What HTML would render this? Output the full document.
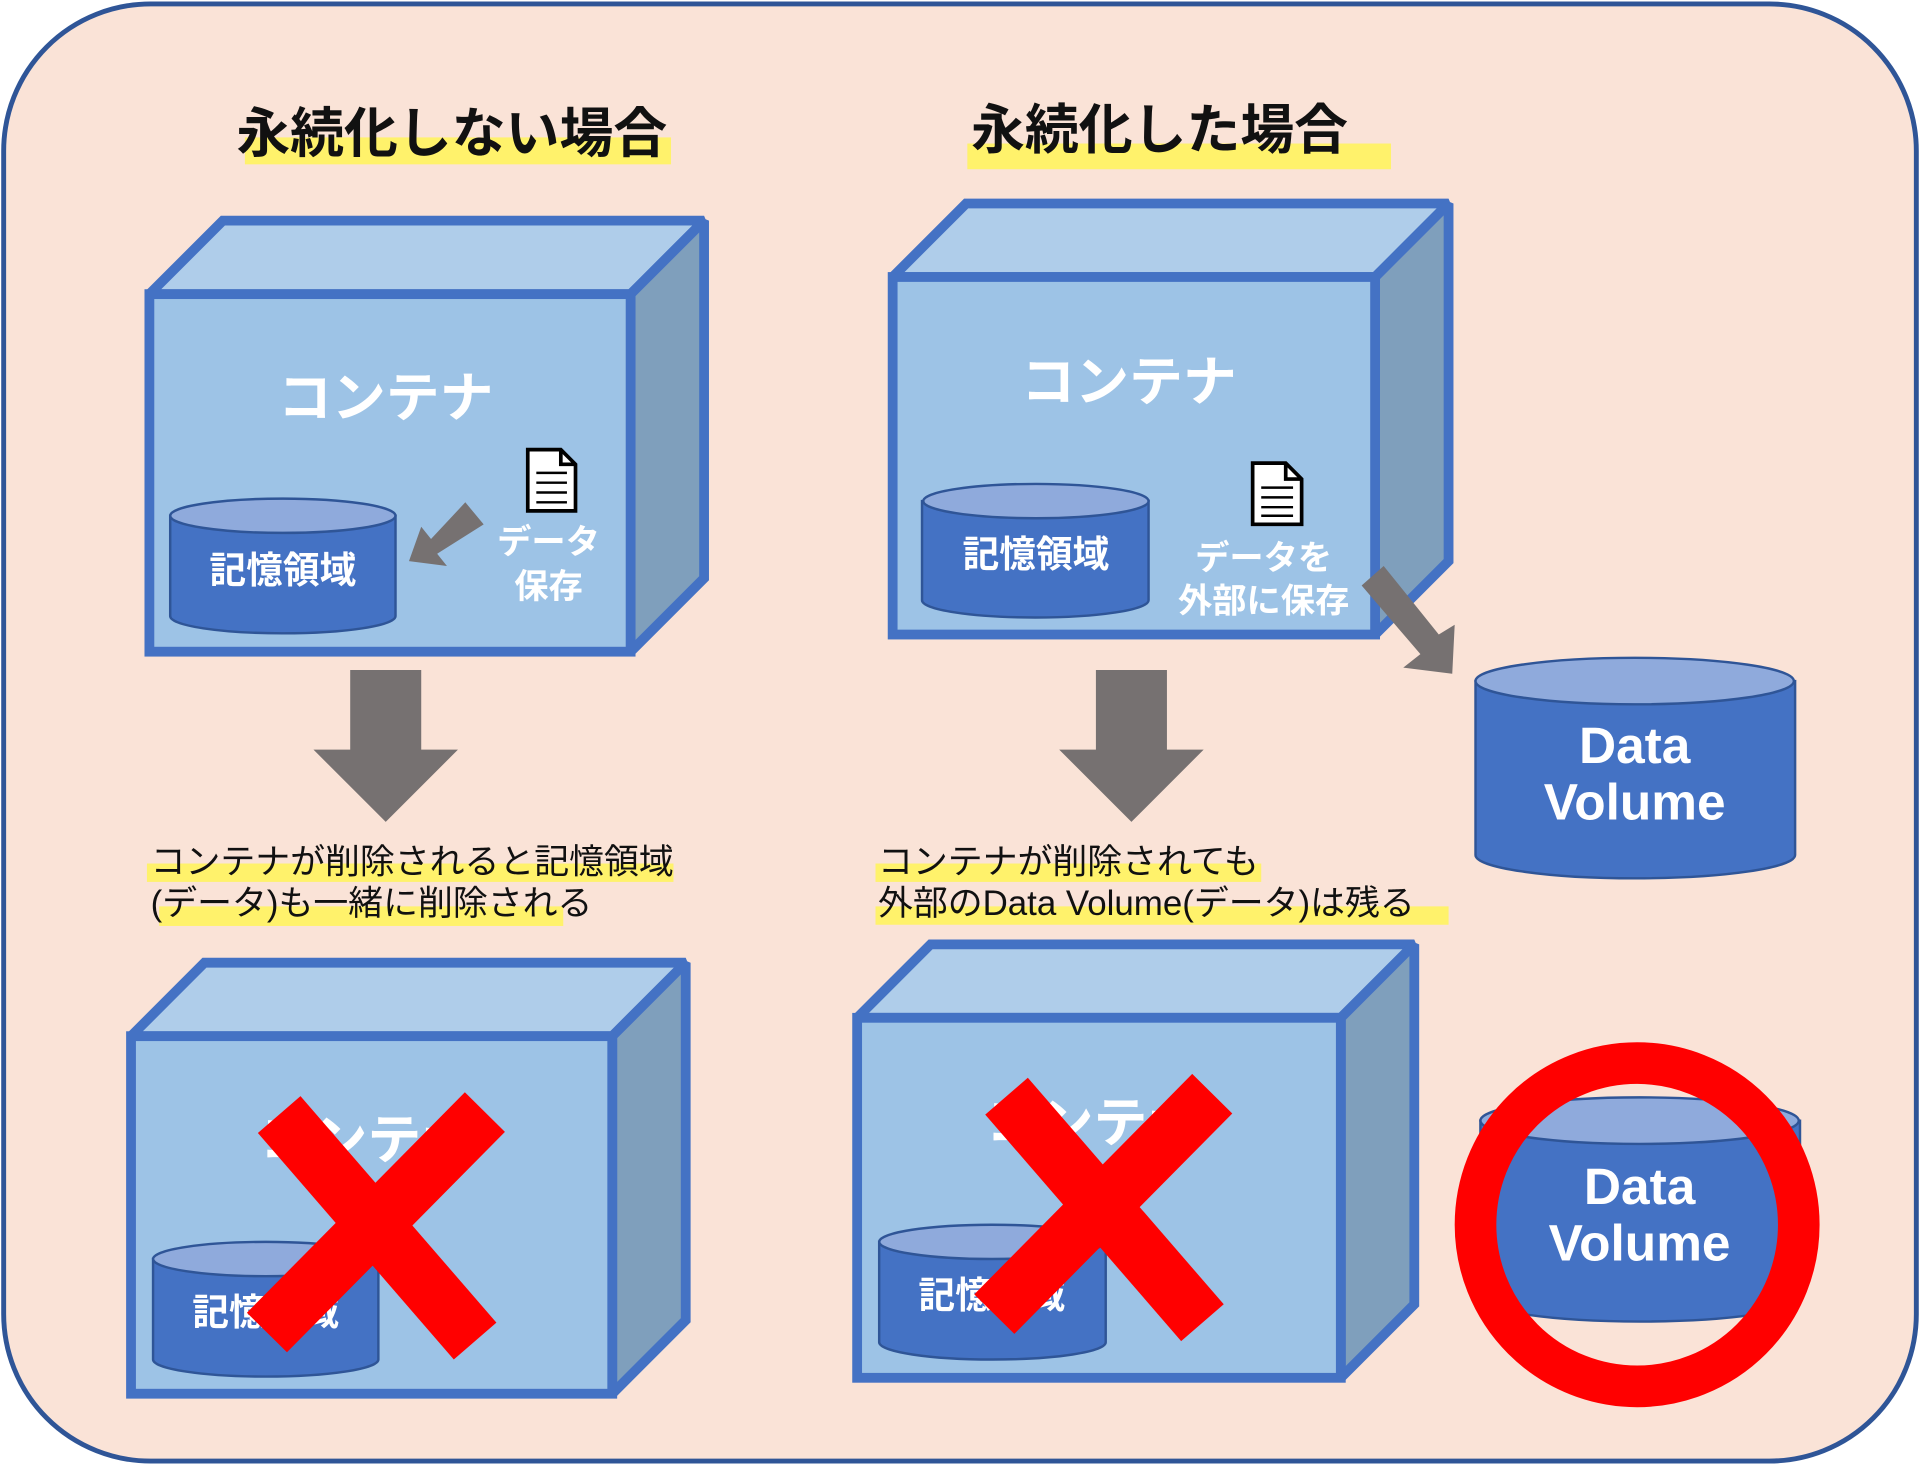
<!DOCTYPE html>
<html><head><meta charset="utf-8"><style>
html,body{margin:0;padding:0;background:#fff}
svg{display:block}
text{font-family:"Liberation Sans","Noto Sans CJK JP",sans-serif}
</style></head><body>
<svg width="1920" height="1465" viewBox="0 0 1568 1196" xmlns="http://www.w3.org/2000/svg">
<rect x="3" y="3" width="1562" height="1190" rx="120" fill="#FAE3D7" stroke="#2F5597" stroke-width="4"/>

<!-- titles -->
<rect x="200" y="112" width="348" height="22" fill="#FFF26B"/>
<text x="193" y="124" font-size="44" font-weight="bold" fill="#111">永続化しない場合</text>
<rect x="790" y="117" width="346" height="21" fill="#FFF26B"/>
<text x="793" y="121" font-size="44" font-weight="bold" fill="#111">永続化した場合</text>

<!-- Cube 1 -->
<g stroke="#4472C4" stroke-width="8" stroke-linejoin="miter" stroke-miterlimit="1.5">
<polygon points="122,240 182,180 575,180 515,240" fill="#AFCDEA"/>
<polygon points="515,240 575,180 575,472 515,532" fill="#7F9FBC"/>
<rect x="122" y="240" width="393" height="292" fill="#9DC3E6"/>
</g>
<text x="315" y="340" font-size="44" font-weight="bold" fill="#fff" text-anchor="middle">コンテナ</text>
<g stroke="#2F5597" stroke-width="2">
<path d="M139,421 L139,503 A92,14 0 0 0 323,503 L323,421 Z" fill="#4472C4"/>
<ellipse cx="231" cy="421" rx="92" ry="14" fill="#8FAADC"/>
</g>
<text x="231" y="476" font-size="30" font-weight="bold" fill="#fff" text-anchor="middle">記憶領域</text>
<g fill="#fff" stroke="#000" stroke-width="3">
<path d="M431,367 L458,367 L470,379 L470,417 L431,417 Z"/>
<path d="M458,367 L458,379 L470,379" fill="none"/>
<path d="M438,386 H463 M438,394 H463 M438,402 H463 M438,410 H463" stroke-width="2"/>
</g>
<text x="448" y="452" font-size="28" font-weight="bold" fill="#fff" text-anchor="middle">データ</text>
<text x="448" y="488" font-size="28" font-weight="bold" fill="#fff" text-anchor="middle">保存</text>
<polygon points="380,410 395,428 357,452 365,462 334,458 344,430 352,440" fill="#767171"/>

<!-- big arrows -->
<polygon points="286,547 344,547 344,612 374,612 315,671 256,612 286,612" fill="#767171"/>
<polygon points="895,547 953,547 953,612 983,612 924,671 865,612 895,612" fill="#767171"/>

<!-- left texts -->
<rect x="120" y="705" width="430" height="15" fill="#FFF26B"/>
<rect x="130" y="740" width="330" height="16" fill="#FFF26B"/>
<text x="123" y="713" font-size="28.5" fill="#111">コンテナが削除されると記憶領域</text>
<text x="123" y="747" font-size="28.5" fill="#111">(データ)も一緒に削除される</text>

<!-- Cube 3 -->
<g stroke="#4472C4" stroke-width="8" stroke-miterlimit="1.5">
<polygon points="107,846 167,786 560,786 500,846" fill="#AFCDEA"/>
<polygon points="500,846 560,786 560,1078 500,1138" fill="#7F9FBC"/>
<rect x="107" y="846" width="393" height="292" fill="#9DC3E6"/>
</g>
<text x="300" y="946" font-size="44" font-weight="bold" fill="#fff" text-anchor="middle">コンテナ</text>
<g stroke="#2F5597" stroke-width="2">
<path d="M125,1028 L125,1110 A92,14 0 0 0 309,1110 L309,1028 Z" fill="#4472C4"/>
<ellipse cx="217" cy="1028" rx="92" ry="14" fill="#8FAADC"/>
</g>
<text x="217" y="1082" font-size="30" font-weight="bold" fill="#fff" text-anchor="middle">記憶領域</text>
<g stroke="#FF0000" stroke-width="46">
<line x1="228" y1="910" x2="388" y2="1095"/>
<line x1="396" y1="908" x2="218" y2="1088"/>
</g>

<!-- Cube 2 -->
<g stroke="#4472C4" stroke-width="8" stroke-miterlimit="1.5">
<polygon points="729,226 789,166 1183,166 1123,226" fill="#AFCDEA"/>
<polygon points="1123,226 1183,166 1183,458 1123,518" fill="#7F9FBC"/>
<rect x="729" y="226" width="394" height="292" fill="#9DC3E6"/>
</g>
<text x="922" y="327" font-size="44" font-weight="bold" fill="#fff" text-anchor="middle">コンテナ</text>
<g stroke="#2F5597" stroke-width="2">
<path d="M753,409 L753,490 A92,14 0 0 0 938,490 L938,409 Z" fill="#4472C4"/>
<ellipse cx="846" cy="409" rx="92" ry="14" fill="#8FAADC"/>
</g>
<text x="846" y="463" font-size="30" font-weight="bold" fill="#fff" text-anchor="middle">記憶領域</text>
<g fill="#fff" stroke="#000" stroke-width="3">
<path d="M1023,378 L1050,378 L1063,391 L1063,428 L1023,428 Z"/>
<path d="M1050,378 L1050,391 L1063,391" fill="none"/>
<path d="M1030,398 H1056 M1030,406 H1056 M1030,414 H1056 M1030,421 H1056" stroke-width="2"/>
</g>
<text x="1032" y="465" font-size="28" font-weight="bold" fill="#fff" text-anchor="middle">データを</text>
<text x="1032" y="500" font-size="28" font-weight="bold" fill="#fff" text-anchor="middle">外部に保存</text>
<polygon points="1112,478 1130,462 1175,518 1188,510 1186,550 1146,545 1160,534" fill="#767171"/>

<!-- Data Volume 1 -->
<g stroke="#2F5597" stroke-width="2">
<path d="M1205,556 L1205,698 A130,19 0 0 0 1466,698 L1466,556 Z" fill="#4472C4"/>
<ellipse cx="1335" cy="556" rx="130" ry="19" fill="#8FAADC"/>
</g>
<text x="1335" y="623" font-size="42" font-weight="bold" fill="#fff" text-anchor="middle">Data</text>
<text x="1335" y="669" font-size="42" font-weight="bold" fill="#fff" text-anchor="middle">Volume</text>

<!-- right texts -->
<rect x="715" y="705" width="315" height="15" fill="#FFF26B"/>
<rect x="715" y="740" width="468" height="15" fill="#FFF26B"/>
<text x="717" y="713" font-size="28.5" fill="#111">コンテナが削除されても</text>
<text x="717" y="747" font-size="28.5" fill="#111">外部のData Volume(データ)は残る</text>

<!-- Cube 4 -->
<g stroke="#4472C4" stroke-width="8" stroke-miterlimit="1.5">
<polygon points="700,831 760,771 1155,771 1095,831" fill="#AFCDEA"/>
<polygon points="1095,831 1155,771 1155,1065 1095,1125" fill="#7F9FBC"/>
<rect x="700" y="831" width="395" height="294" fill="#9DC3E6"/>
</g>
<text x="893" y="932" font-size="44" font-weight="bold" fill="#fff" text-anchor="middle">コンテナ</text>
<g stroke="#2F5597" stroke-width="2">
<path d="M718,1014 L718,1096 A92,14 0 0 0 903,1096 L903,1014 Z" fill="#4472C4"/>
<ellipse cx="810" cy="1014" rx="92" ry="14" fill="#8FAADC"/>
</g>
<text x="810" y="1068" font-size="30" font-weight="bold" fill="#fff" text-anchor="middle">記憶領域</text>
<g stroke="#FF0000" stroke-width="46">
<line x1="822" y1="895" x2="982" y2="1080"/>
<line x1="990" y1="893" x2="812" y2="1073"/>
</g>

<!-- Data Volume 2 -->
<g stroke="#2F5597" stroke-width="2">
<path d="M1209,915 L1209,1060 A130,19 0 0 0 1470,1060 L1470,915 Z" fill="#4472C4"/>
<ellipse cx="1339" cy="915" rx="130" ry="19" fill="#8FAADC"/>
</g>
<text x="1339" y="983" font-size="42" font-weight="bold" fill="#fff" text-anchor="middle">Data</text>
<text x="1339" y="1029" font-size="42" font-weight="bold" fill="#fff" text-anchor="middle">Volume</text>
<circle cx="1337" cy="1000" r="132" fill="none" stroke="#FF0000" stroke-width="34"/>
</svg>
</body></html>
